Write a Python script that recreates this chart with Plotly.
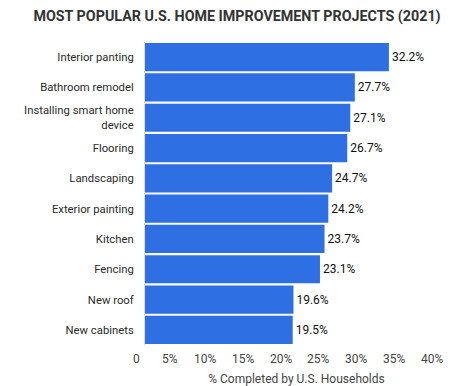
import plotly.graph_objects as go

categories = ["Interior panting", "Bathroom remodel", "Installing smart home<br>device",
              "Flooring", "Landscaping", "Exterior painting", "Kitchen", "Fencing",
              "New roof", "New cabinets"]
values = [32.2, 27.7, 27.1, 26.7, 24.7, 24.2, 23.7, 23.1, 19.6, 19.5]
tick_values = [0, 5, 10, 15, 20, 25, 30, 35, 40]
tick_labels = ["0", "5%", "10%", "15%", "20%", "25%", "30%", "35%", "40%"]

FONT = "Roboto"
fig = go.Figure(go.Bar(
    x=values, y=categories, orientation="h",
    marker=dict(color="#2F6FE4", line=dict(width=0)),
    text=[f"{v}%" for v in values], textposition="outside",
    textfont=dict(family=FONT, size=12, color="#111111"),
    cliponaxis=False,
))

annotations = [dict(x=v, y=0, xref="x", yref="paper", text=t, showarrow=False,
                    xanchor="right", yanchor="top", xshift=-3, yshift=-5,
                    font=dict(family=FONT, size=12, color="#444444"))
               for v, t in zip(tick_values, tick_labels)]

fig.update_layout(
    width=474, height=386,
    margin=dict(l=145, r=26, t=42, b=41),
    paper_bgcolor="white", plot_bgcolor="white",
    bargap=0.07,
    showlegend=False,
    title=dict(text="<b>MOST POPULAR U.S. HOME IMPROVEMENT PROJECTS (2021)</b>",
               x=0.5, xanchor="center", y=0.958, yanchor="middle",
               font=dict(family=FONT, size=14.3, color="#333333")),
    annotations=annotations,
    font=dict(family=FONT, size=12, color="#333333"),
)
fig.update_xaxes(range=[0, 40], showgrid=False, zeroline=False, showticklabels=False,
                 ticks="", automargin=False,
                 title=dict(text="% Completed by U.S. Households",
                            font=dict(family=FONT, size=12, color="#444444"),
                            standoff=30))
fig.update_yaxes(autorange="reversed", showgrid=False, zeroline=False,
                 showline=True, linecolor="#DDDDDD", linewidth=1,
                 ticks="", ticklabelstandoff=8,
                 tickfont=dict(family=FONT, size=11.3, color="#2A2A2A"))
fig.write_html("out.html", config={"displayModeBar": False},
               post_script="document.body.style.margin='0';")
